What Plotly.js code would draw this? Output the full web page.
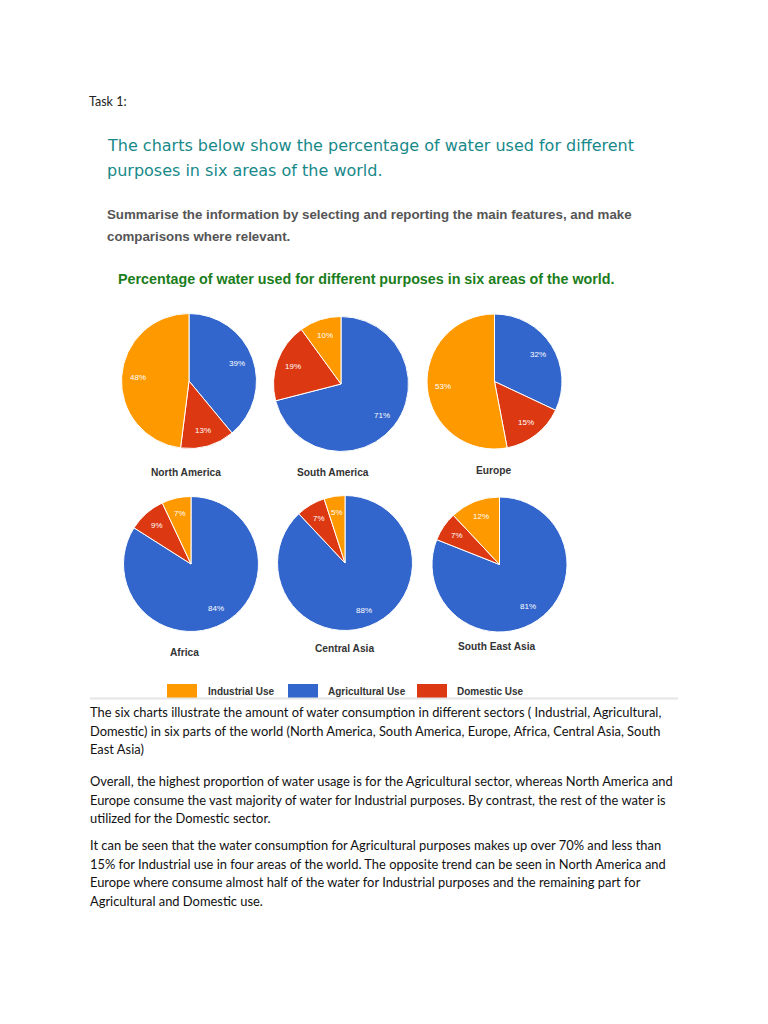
<!DOCTYPE html>
<html>
<head>
<meta charset="utf-8">
<script src="https://cdn.plot.ly/plotly-3.0.1.min.js"></script>
<style>
html,body{margin:0;padding:0;background:#fff;}
#chart{width:768px;height:1024px;}
</style>
</head>
<body>
<div id="chart"></div>
<script>
// ---- data ----
const regions = ["North America", "South America", "Europe", "Africa", "Central Asia", "South East Asia"];
const sectors = ["Agricultural Use", "Domestic Use", "Industrial Use"];
const agricultural = [39, 71, 32, 84, 88, 81];
const domestic = [13, 19, 15, 9, 7, 7];
const industrial = [48, 10, 53, 7, 5, 12];
const legendOrder = ["Industrial Use", "Agricultural Use", "Domestic Use"];

const sectorColors = {"Agricultural Use": "#3366CC", "Domestic Use": "#DC3912", "Industrial Use": "#FF9900"};

const taskLabel = "Task 1:";
const headingLines = ["The charts below show the percentage of water used for different", "purposes in six areas of the world."];
const instructionLines = ["Summarise the information by selecting and reporting the main features, and make", "comparisons where relevant."];
const chartTitle = "Percentage of water used for different purposes in six areas of the world.";
const bodyLines = [
  "The six charts illustrate the amount of water consumption in different sectors ( Industrial, Agricultural,",
  "Domestic) in six parts of the world (North America, South America, Europe, Africa, Central Asia, South",
  "East Asia)",
  "Overall, the highest proportion of water usage is for the Agricultural sector, whereas North America and",
  "Europe consume the vast majority of water for Industrial purposes. By contrast, the rest of the water is",
  "utilized for the Domestic sector.",
  "It can be seen that the water consumption for Agricultural purposes makes up over 70% and less than",
  "15% for Industrial use in four areas of the world. The opposite trend can be seen in North America and",
  "Europe where consume almost half of the water for Industrial purposes and the remaining part for",
  "Agricultural and Domestic use."
];

// ---- layout geometry (pixels) ----
const W = 768, H = 1024;
const px = x => x / W;
const py = y => 1 - y / H;
const pieCenters = [[189, 381], [341, 384], [494.5, 381.5], [191, 564], [345, 563], [499.5, 564.5]];
const pieR = 67.5;
const labelRadiusFrac = 0.76;
const nameY = [472, 472, 470, 652, 648, 646];
const nameX = [186, 333, 493, 184, 344, 497];

const annotations = [];
const shapes = [];
function txt(text, x, y, opts) {
  annotations.push(Object.assign({
    text: text, x: px(x), y: py(y), xref: "paper", yref: "paper",
    showarrow: false, xanchor: "left", yanchor: "middle"
  }, opts));
}

const traces = regions.map((reg, i) => {
  const [cx, cy] = pieCenters[i];
  const vals = [agricultural[i], domestic[i], industrial[i]];
  // percentage labels placed along each slice's mid-angle (clockwise from 12 o'clock)
  const total = vals.reduce((a, b) => a + b, 0);
  let cum = 0;
  vals.forEach(v => {
    const mid = (cum + v / 2) / total * 2 * Math.PI;
    cum += v;
    const lx = cx + Math.sin(mid) * pieR * labelRadiusFrac;
    const ly = cy - Math.cos(mid) * pieR * labelRadiusFrac;
    txt(v + "%", lx, ly, {xanchor: "center", font: {family: "Liberation Sans, Arial, sans-serif", size: 8, color: "#ffffff"}});
  });
  return {
    type: "pie",
    name: reg,
    labels: sectors,
    values: vals,
    sort: false,
    direction: "clockwise",
    rotation: 0,
    domain: {x: [px(cx - pieR), px(cx + pieR)], y: [py(cy + pieR), py(cy - pieR)]},
    marker: {colors: sectors.map(s => sectorColors[s]), line: {color: "#ffffff", width: 1}},
    textinfo: "none",
    hoverinfo: "skip",
    showlegend: false
  };
});

txt(taskLabel, 87, 101, {font: {family: "Lato", size: 12.5, color: "#222"}});
headingLines.forEach((l, i) => txt(l, 104.5, 145 + i * 25, {font: {family: "DejaVu Sans", size: 16, color: "#17898a"}}));
instructionLines.forEach((l, i) => txt(l, 105, 214 + i * 22, {font: {family: "Liberation Sans", size: 13.3, color: "#555555", weight: "bold"}}));
txt("<b>" + chartTitle + "</b>", 366.5, 279, {xanchor: "center", font: {family: "Liberation Sans", size: 14.3, color: "#1b7d1b"}});

regions.forEach((reg, i) => txt("<b>" + reg + "</b>", nameX[i], nameY[i], {xanchor: "center", font: {family: "Liberation Sans", size: 10.2, color: "#333333"}}));

// legend
const legSwatchX = [167, 288, 417];
const legTextX = [206, 326, 455];
legendOrder.forEach((s, i) => {
  shapes.push({type: "rect", xref: "paper", yref: "paper", x0: px(legSwatchX[i]), x1: px(legSwatchX[i] + 30), y0: py(699), y1: py(684), fillcolor: sectorColors[s], line: {width: 0}});
  txt("<b>" + s + "</b>", legTextX[i], 691, {font: {family: "Liberation Sans", size: 10, color: "#333333"}});
});
shapes.push({type: "line", xref: "paper", yref: "paper", x0: px(90), x1: px(678), y0: py(698.5), y1: py(698.5), line: {color: "#e6e6e6", width: 2}});

const bodyY = [712, 730.5, 749, 781, 799.5, 818, 845, 863.5, 882, 900.5];
bodyLines.forEach((l, i) => txt(l, 88, bodyY[i], {font: {family: "Lato", size: 12.9, color: "#111111"}}));

const layout = {
  width: W, height: H,
  margin: {l: 0, r: 0, t: 0, b: 0},
  paper_bgcolor: "#ffffff",
  showlegend: false,
  annotations: annotations,
  shapes: shapes
};

Plotly.newPlot("chart", traces, layout, {staticPlot: true});
</script>
</body>
</html>
